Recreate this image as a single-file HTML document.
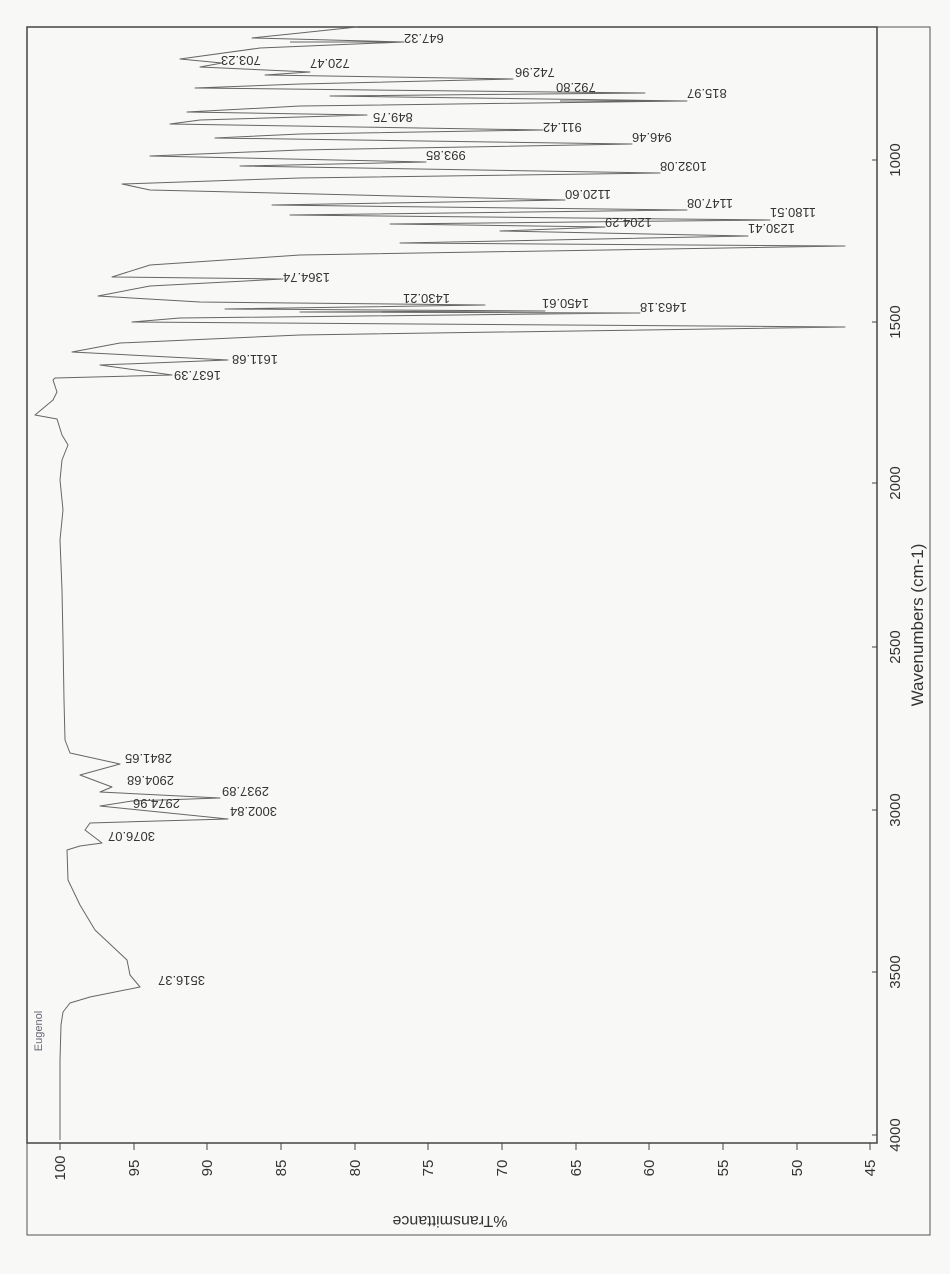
<!DOCTYPE html>
<html><head><meta charset="utf-8"><style>
html,body{margin:0;padding:0;background:#f7f7f5;}
svg{display:block;}
text{font-family:"Liberation Sans",sans-serif;fill:#333;}
</style></head><body>
<svg width="950" height="1274" viewBox="0 0 950 1274" xmlns="http://www.w3.org/2000/svg">
<rect x="0" y="0" width="950" height="1274" fill="#f8f8f6"/>
<polyline points="877,27 930,27 930,1235 27,1235 27,1143" fill="none" stroke="#555" stroke-width="1"/>
<rect x="27" y="27" width="850" height="1116" fill="none" stroke="#444" stroke-width="1.5"/>
<g stroke="#444" stroke-width="1">
<line x1="60" y1="1143" x2="60" y2="1150"/><line x1="134" y1="1143" x2="134" y2="1150"/>
<line x1="207" y1="1143" x2="207" y2="1150"/><line x1="281" y1="1143" x2="281" y2="1150"/>
<line x1="355" y1="1143" x2="355" y2="1150"/><line x1="428" y1="1143" x2="428" y2="1150"/>
<line x1="502" y1="1143" x2="502" y2="1150"/><line x1="576" y1="1143" x2="576" y2="1150"/>
<line x1="649" y1="1143" x2="649" y2="1150"/><line x1="723" y1="1143" x2="723" y2="1150"/>
<line x1="797" y1="1143" x2="797" y2="1150"/><line x1="870" y1="1143" x2="870" y2="1150"/>
<line x1="877" y1="160" x2="872" y2="160"/><line x1="877" y1="322" x2="872" y2="322"/>
<line x1="877" y1="483" x2="872" y2="483"/><line x1="877" y1="647" x2="872" y2="647"/>
<line x1="877" y1="810" x2="872" y2="810"/><line x1="877" y1="972" x2="872" y2="972"/>
<line x1="877" y1="1135" x2="872" y2="1135"/>
</g>
<g font-size="15" text-anchor="middle">
<text transform="translate(65,1168) rotate(-90)">100</text>
<text transform="translate(139,1168) rotate(-90)">95</text>
<text transform="translate(212,1168) rotate(-90)">90</text>
<text transform="translate(286,1168) rotate(-90)">85</text>
<text transform="translate(360,1168) rotate(-90)">80</text>
<text transform="translate(433,1168) rotate(-90)">75</text>
<text transform="translate(507,1168) rotate(-90)">70</text>
<text transform="translate(581,1168) rotate(-90)">65</text>
<text transform="translate(654,1168) rotate(-90)">60</text>
<text transform="translate(728,1168) rotate(-90)">55</text>
<text transform="translate(802,1168) rotate(-90)">50</text>
<text transform="translate(875,1168) rotate(-90)">45</text>
<text transform="translate(900,160) rotate(-90)">1000</text>
<text transform="translate(900,322) rotate(-90)">1500</text>
<text transform="translate(900,483) rotate(-90)">2000</text>
<text transform="translate(900,647) rotate(-90)">2500</text>
<text transform="translate(900,810) rotate(-90)">3000</text>
<text transform="translate(900,972) rotate(-90)">3500</text>
<text transform="translate(900,1135) rotate(-90)">4000</text>
</g>
<text font-size="17" text-anchor="middle" transform="translate(923,625) rotate(-90)">Wavenumbers (cm-1)</text>
<text font-size="16" text-anchor="middle" transform="translate(450,1216) rotate(180)">%Transmittance</text>
<text font-size="11" text-anchor="middle" transform="translate(42,1031) rotate(-90)" style="fill:#667">Eugenol</text>
<polyline fill="none" stroke="#666" stroke-width="1" stroke-linejoin="round" points="
357,27 300,33 252,38 404,42 260,48 180,59 222,63 200,67 310,72 265,75 513,79 300,84 195,88 645,93 330,96 687,101 300,106 187,112 367,115 200,120 170,124 543,130 300,134 215,138 632,144 300,150 150,156 426,162 240,166 660,173 300,178 122,184 150,190 565,200 272,205 687,210 290,215 770,220 390,224 605,227 500,231 748,236 550,240 400,243 845,246 300,255 150,265 112,277 283,279 150,286 98,296 200,302 485,305 225,309 545,311 300,312 640,313 180,318 132,322 845,327 300,335 120,343 72,352 228,360 100,365 172,375 55,378 53,380 57,392 53,400 35,415 57,419 62,435 68,445 62,460 60,480 63,510 60,540 62,590 63,640 64,700 65,740 70,753 120,764 80,775 112,787 100,792 220,798 132,801 100,806 228,819 90,823 85,830 102,843 80,846 67,850 68,880 80,905 95,930 127,960 130,975 140,987 90,997 70,1003 63,1012 61,1025 60,1060 60,1140"/>
<g stroke="#666" stroke-width="1">
<line x1="290" y1="42" x2="404" y2="42"/>
<line x1="680" y1="101" x2="560" y2="101"/>
</g>
<g font-size="13" text-anchor="end">
<text transform="translate(404,34) rotate(180)">647.32</text>
<text transform="translate(221,56) rotate(180)">703.23</text>
<text transform="translate(310,59) rotate(180)">720.47</text>
<text transform="translate(515,68) rotate(180)">742.96</text>
<text transform="translate(556,83) rotate(180)">792.80</text>
<text transform="translate(687,89) rotate(180)">815.97</text>
<text transform="translate(373,113) rotate(180)">849.75</text>
<text transform="translate(543,123) rotate(180)">911.42</text>
<text transform="translate(632,133) rotate(180)">946.46</text>
<text transform="translate(426,151) rotate(180)">993.85</text>
<text transform="translate(660,162) rotate(180)">1032.08</text>
<text transform="translate(565,190) rotate(180)">1120.60</text>
<text transform="translate(687,199) rotate(180)">1147.08</text>
<text transform="translate(770,208) rotate(180)">1180.51</text>
<text transform="translate(605,218) rotate(180)">1204.29</text>
<text transform="translate(748,224) rotate(180)">1230.41</text>
<text transform="translate(283,273) rotate(180)">1364.74</text>
<text transform="translate(403,294) rotate(180)">1430.21</text>
<text transform="translate(542,299) rotate(180)">1450.61</text>
<text transform="translate(640,303) rotate(180)">1463.18</text>
<text transform="translate(232,355) rotate(180)">1611.68</text>
<text transform="translate(174,371) rotate(180)">1637.39</text>
<text transform="translate(125,754) rotate(180)">2841.65</text>
<text transform="translate(127,776) rotate(180)">2904.68</text>
<text transform="translate(222,787) rotate(180)">2937.89</text>
<text transform="translate(133,799) rotate(180)">2974.96</text>
<text transform="translate(230,807) rotate(180)">3002.84</text>
<text transform="translate(108,832) rotate(180)">3076.07</text>
<text transform="translate(158,976) rotate(180)">3516.37</text>
</g>
</svg>
</body></html>
